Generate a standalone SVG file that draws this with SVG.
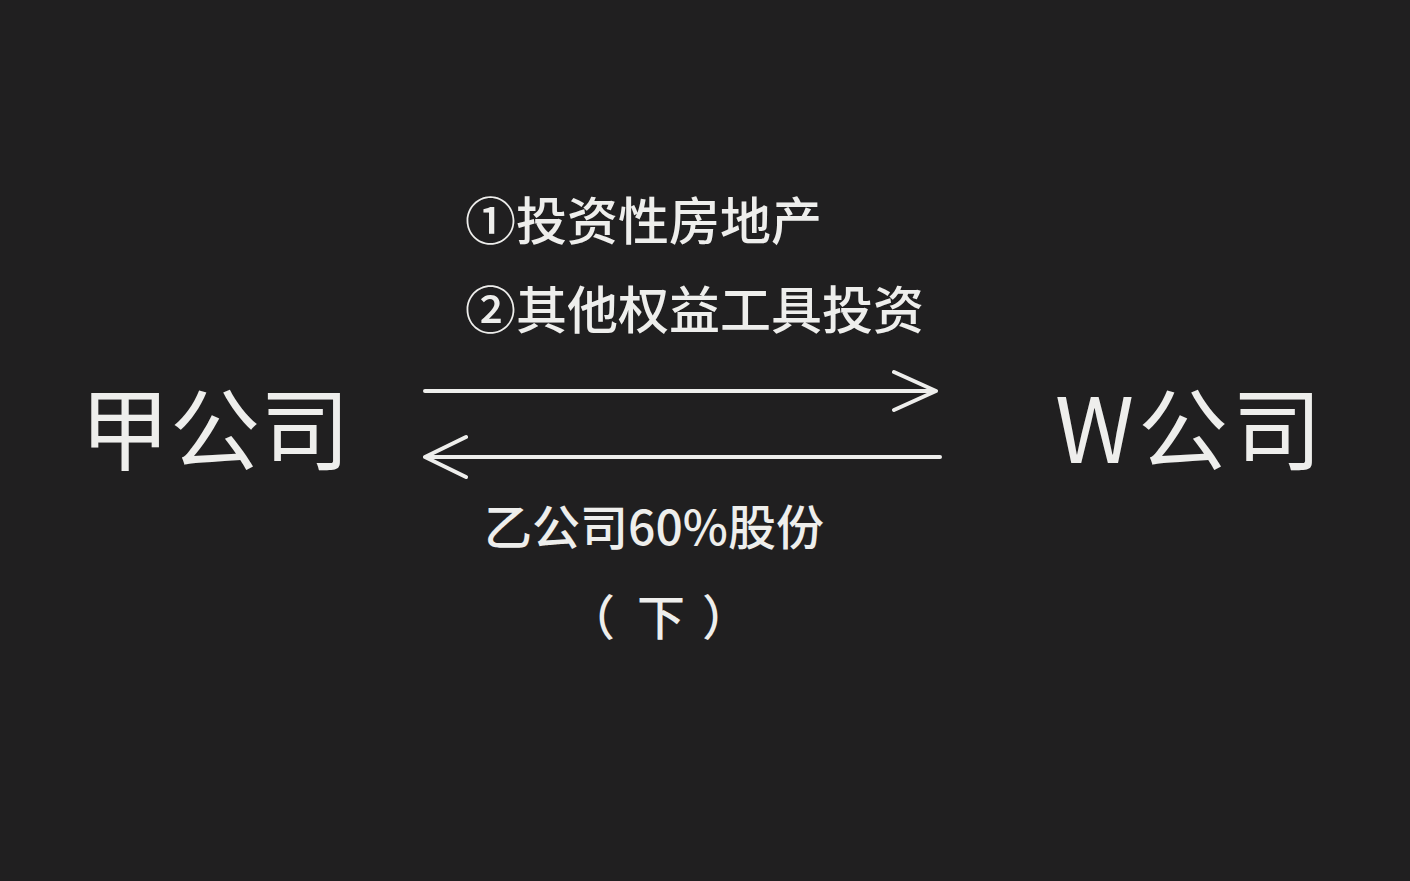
<svg xmlns="http://www.w3.org/2000/svg" width="1410" height="881" viewBox="0 0 1410 881">
<style>
text{fill:#eeeeec;font-family:"Noto Sans CJK SC","Noto Sans",sans-serif;font-weight:500;}
.node{font-size:90px;font-weight:400;}
.lbl{font-size:51px;}
.lbl2{font-size:48px;}
.conn{stroke:#eeeeec;stroke-width:4;stroke-linecap:round;stroke-linejoin:round;fill:none;}
</style>
<rect width="1410" height="881" fill="#201f20"/>
<g id="node-jia"><text class="node" x="80" y="463">甲公司</text></g>
<g id="node-w"><text class="node" x="1055" y="463" letter-spacing="4">W公司</text></g>
<g id="connectors">
<path class="conn" d="M425 391 H936 M894 372 L936 391 L894 410"/>
<path class="conn" d="M940 457 H425 M466 437 L425 457 L466 477"/>
</g>
<g id="labels">
<text class="lbl" x="465" y="240">①投资性房地产</text>
<text class="lbl" x="465" y="329">②其他权益工具投资</text>
<text class="lbl2" x="654" y="545" text-anchor="middle">乙公司60%股份</text>
<text class="lbl2" y="635"><tspan x="567">（</tspan><tspan x="637">下</tspan><tspan x="702">）</tspan></text>
</g>
</svg>
